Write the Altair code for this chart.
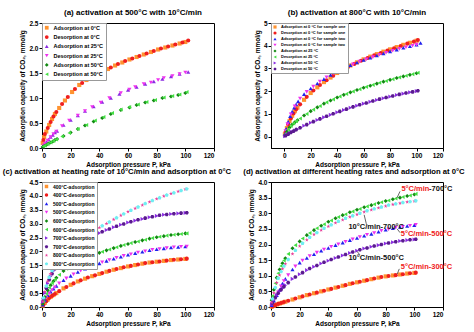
import altair as alt
import pandas as pd

# ---------------- panel (a) data ----------------
a_ads0_p = [0.5, 1.5, 3, 5, 7, 9, 12, 16, 21, 26, 31, 36, 41, 46, 51, 56, 61, 66, 71, 76, 81, 86, 91, 96, 100]
a_ads0_q = [0.1, 0.22, 0.33, 0.46, 0.58, 0.68, 0.8, 0.95, 1.12, 1.26, 1.36, 1.44, 1.51, 1.58, 1.65, 1.71, 1.77, 1.82, 1.87, 1.92, 1.97, 2.01, 2.05, 2.09, 2.12]
a_des0_p = [1, 2, 4, 6, 8, 10, 14, 18, 23, 28, 33, 38, 43, 48, 53, 58, 63, 68, 73, 78, 83, 88, 93, 98, 102]
a_des0_q = [0.16, 0.28, 0.4, 0.52, 0.63, 0.72, 0.88, 1.02, 1.18, 1.3, 1.4, 1.47, 1.54, 1.61, 1.68, 1.74, 1.79, 1.84, 1.89, 1.94, 1.99, 2.03, 2.07, 2.11, 2.15]
a_ads25_p = [0.5, 1.5, 3, 4.5, 6, 7.5, 9, 10.5, 15, 20, 25, 30, 36, 42, 48, 54, 60, 66, 72, 78, 84, 90, 96, 102]
a_ads25_q = [0.03, 0.07, 0.12, 0.17, 0.22, 0.26, 0.31, 0.34, 0.46, 0.56, 0.65, 0.74, 0.83, 0.92, 1.0, 1.08, 1.16, 1.22, 1.28, 1.33, 1.38, 1.43, 1.48, 1.52]
a_des25_p = [1, 2, 4, 6, 8, 10, 14, 19, 25, 30, 35, 41, 47, 55, 61, 65, 71, 76, 81, 85, 91, 96, 100]
a_des25_q = [0.05, 0.09, 0.15, 0.22, 0.28, 0.33, 0.44, 0.55, 0.65, 0.74, 0.82, 0.91, 1.0, 1.1, 1.17, 1.22, 1.28, 1.31, 1.36, 1.4, 1.44, 1.48, 1.51]
a_ads50_p = [0.5, 1.5, 3, 4.5, 6, 7.5, 9, 10.5, 15, 20, 25, 30, 36, 42, 48, 55, 61, 66, 72, 78, 84, 90, 95, 100]
a_ads50_q = [0.02, 0.04, 0.06, 0.09, 0.11, 0.13, 0.16, 0.18, 0.24, 0.31, 0.38, 0.45, 0.53, 0.6, 0.68, 0.76, 0.81, 0.86, 0.91, 0.95, 1.0, 1.03, 1.06, 1.1]
a_des50_p = [1, 2, 4, 6, 8, 10, 14, 19, 25, 31, 37, 43, 49, 55, 61, 67, 73, 79, 85, 91, 96, 101]
a_des50_q = [0.03, 0.05, 0.08, 0.11, 0.14, 0.17, 0.23, 0.3, 0.38, 0.46, 0.55, 0.62, 0.7, 0.77, 0.82, 0.87, 0.92, 0.96, 1.01, 1.04, 1.07, 1.12]

# ---------------- panel (b) data ----------------
b_ads1_p = [0.5, 2, 4, 6, 8, 10, 15, 20, 25, 30, 35, 40, 45, 50, 55, 60, 65, 70, 75, 80, 85, 90, 95, 100]
b_ads1_q = [0.1, 0.38, 0.68, 0.92, 1.12, 1.28, 1.62, 1.92, 2.17, 2.4, 2.6, 2.8, 2.97, 3.13, 3.27, 3.4, 3.52, 3.63, 3.74, 3.84, 3.94, 4.04, 4.13, 4.22]
b_des1_p = [1, 3, 5, 7, 9, 12, 17, 22, 27, 32, 37, 43, 48, 53, 58, 63, 68, 73, 78, 83, 88, 93, 98, 101]
b_des1_q = [0.2, 0.53, 0.8, 1.02, 1.2, 1.42, 1.75, 2.03, 2.27, 2.48, 2.68, 2.9, 3.05, 3.2, 3.34, 3.46, 3.58, 3.68, 3.79, 3.89, 3.99, 4.09, 4.18, 4.25]
b_ads2_p = [0.5, 1.5, 3, 4.5, 6, 7.5, 9, 10.5, 15, 20, 25, 30, 35, 40, 45, 50, 55, 60, 65, 70, 75, 80, 85, 90, 95, 100, 103]
b_ads2_q = [0.12, 0.35, 0.65, 0.9, 1.1, 1.27, 1.42, 1.55, 1.87, 2.12, 2.34, 2.53, 2.71, 2.87, 3.01, 3.14, 3.26, 3.37, 3.47, 3.57, 3.66, 3.75, 3.83, 3.91, 3.98, 4.05, 4.12]
b_des2_p = [1, 2.5, 5, 8, 12, 17, 22, 27, 32, 37, 42, 47, 52, 57, 62, 67, 72, 77, 82, 87, 92, 97, 100]
b_des2_q = [0.25, 0.55, 0.98, 1.33, 1.68, 1.97, 2.2, 2.42, 2.61, 2.78, 2.93, 3.06, 3.18, 3.3, 3.4, 3.5, 3.6, 3.69, 3.78, 3.86, 3.93, 4.0, 4.05]
b_ads25_p = [0.5, 2, 4, 6, 8, 10, 15, 20, 25, 30, 35, 40, 45, 50, 55, 60, 65, 70, 75, 80, 85, 90, 95, 100]
b_ads25_q = [0.06, 0.22, 0.4, 0.53, 0.63, 0.72, 0.93, 1.12, 1.29, 1.45, 1.59, 1.72, 1.84, 1.95, 2.05, 2.15, 2.24, 2.33, 2.42, 2.5, 2.58, 2.65, 2.72, 2.79]
b_des25_p = [1, 3, 5, 7, 9, 12, 17, 22, 27, 32, 37, 42, 47, 52, 57, 62, 67, 72, 77, 82, 87, 92, 97, 101]
b_des25_q = [0.12, 0.31, 0.47, 0.58, 0.68, 0.8, 1.0, 1.19, 1.35, 1.51, 1.64, 1.77, 1.88, 1.99, 2.09, 2.19, 2.28, 2.37, 2.45, 2.53, 2.61, 2.68, 2.75, 2.81]
b_ads50_p = [0.5, 2, 4, 6, 8, 10, 15, 20, 25, 30, 35, 40, 45, 50, 55, 60, 65, 70, 75, 80, 85, 90, 95, 100]
b_ads50_q = [0.02, 0.08, 0.15, 0.21, 0.27, 0.33, 0.48, 0.61, 0.73, 0.85, 0.96, 1.07, 1.17, 1.27, 1.36, 1.45, 1.53, 1.61, 1.69, 1.76, 1.83, 1.89, 1.95, 2.0]
b_des50_p = [1, 3, 5, 7, 9, 12, 17, 22, 27, 32, 37, 42, 47, 52, 57, 62, 67, 72, 77, 82, 87, 92, 97, 101]
b_des50_q = [0.04, 0.11, 0.18, 0.24, 0.3, 0.39, 0.53, 0.66, 0.78, 0.9, 1.01, 1.11, 1.21, 1.31, 1.4, 1.48, 1.57, 1.65, 1.72, 1.79, 1.86, 1.92, 1.97, 2.02]

# ---------------- panels (c) and (d): measured pressures ----------------
cd_p_ads = [0.5, 2, 4, 6, 8, 10, 15, 20, 25, 30, 35, 40, 45, 50, 55, 60, 65, 70, 75, 80, 85, 90, 95, 100]
cd_p_des = [1, 3, 5, 7, 9, 12, 17, 22, 27, 32, 37, 42, 47, 52, 57, 62, 67, 72, 77, 82, 87, 92, 97, 101]

c_ads400 = [0.05, 0.15, 0.27, 0.36, 0.43, 0.5, 0.67, 0.8, 0.92, 1.02, 1.11, 1.19, 1.27, 1.34, 1.4, 1.46, 1.51, 1.56, 1.6, 1.63, 1.66, 1.69, 1.71, 1.73]
c_des400 = [0.08, 0.21, 0.32, 0.4, 0.47, 0.57, 0.72, 0.85, 0.96, 1.06, 1.14, 1.22, 1.3, 1.37, 1.43, 1.48, 1.53, 1.58, 1.61, 1.64, 1.67, 1.7, 1.72, 1.74]
c_ads500 = [0.08, 0.25, 0.42, 0.55, 0.66, 0.76, 0.96, 1.12, 1.26, 1.38, 1.48, 1.57, 1.66, 1.74, 1.81, 1.88, 1.94, 1.99, 2.04, 2.08, 2.11, 2.14, 2.16, 2.18]
c_des500 = [0.14, 0.34, 0.49, 0.61, 0.71, 0.85, 1.03, 1.18, 1.31, 1.42, 1.52, 1.61, 1.69, 1.77, 1.84, 1.9, 1.96, 2.01, 2.06, 2.09, 2.12, 2.15, 2.17, 2.18]
c_ads600 = [0.12, 0.36, 0.6, 0.78, 0.93, 1.05, 1.3, 1.48, 1.62, 1.74, 1.85, 1.95, 2.04, 2.12, 2.2, 2.27, 2.34, 2.4, 2.46, 2.51, 2.55, 2.59, 2.62, 2.65]
c_des600 = [0.2, 0.48, 0.7, 0.86, 0.99, 1.16, 1.38, 1.54, 1.67, 1.79, 1.89, 1.99, 2.07, 2.15, 2.23, 2.3, 2.36, 2.42, 2.48, 2.53, 2.57, 2.6, 2.63, 2.65]
c_ads700 = [0.18, 0.5, 0.85, 1.1, 1.3, 1.46, 1.8, 2.05, 2.24, 2.4, 2.54, 2.66, 2.77, 2.87, 2.96, 3.04, 3.11, 3.17, 3.23, 3.28, 3.32, 3.35, 3.37, 3.39]
c_des700 = [0.3, 0.68, 0.98, 1.2, 1.38, 1.6, 1.91, 2.13, 2.31, 2.46, 2.59, 2.71, 2.81, 2.91, 2.99, 3.07, 3.14, 3.2, 3.25, 3.3, 3.33, 3.36, 3.38, 3.39]
c_ads800 = [0.2, 0.55, 0.92, 1.2, 1.42, 1.6, 1.95, 2.2, 2.4, 2.57, 2.72, 2.86, 3.0, 3.15, 3.3, 3.43, 3.55, 3.67, 3.78, 3.89, 3.99, 4.08, 4.16, 4.24]
c_des800 = [0.33, 0.75, 1.07, 1.31, 1.51, 1.75, 2.05, 2.28, 2.47, 2.63, 2.78, 2.92, 3.06, 3.21, 3.35, 3.48, 3.6, 3.72, 3.83, 3.93, 4.03, 4.11, 4.19, 4.25]

d_ads5_300 = [0.01, 0.04, 0.08, 0.11, 0.14, 0.17, 0.24, 0.31, 0.38, 0.44, 0.5, 0.56, 0.62, 0.68, 0.74, 0.79, 0.84, 0.89, 0.94, 0.98, 1.01, 1.04, 1.07, 1.09]
d_des5_300 = [0.02, 0.06, 0.1, 0.13, 0.16, 0.2, 0.27, 0.34, 0.4, 0.46, 0.52, 0.58, 0.64, 0.7, 0.76, 0.81, 0.86, 0.91, 0.96, 0.99, 1.02, 1.05, 1.08, 1.1]
d_ads5_500 = [0.06, 0.2, 0.38, 0.55, 0.75, 0.9, 1.2, 1.42, 1.57, 1.69, 1.8, 1.89, 1.98, 2.06, 2.14, 2.21, 2.28, 2.34, 2.41, 2.47, 2.52, 2.56, 2.59, 2.62]
d_des5_500 = [0.1, 0.3, 0.47, 0.66, 0.83, 1.02, 1.3, 1.49, 1.63, 1.74, 1.84, 1.93, 2.01, 2.09, 2.17, 2.24, 2.31, 2.37, 2.44, 2.49, 2.54, 2.57, 2.6, 2.63]
d_ads5_700 = [0.22, 0.55, 0.94, 1.2, 1.4, 1.56, 1.88, 2.1, 2.3, 2.46, 2.6, 2.73, 2.84, 2.94, 3.03, 3.11, 3.19, 3.26, 3.33, 3.39, 3.45, 3.5, 3.55, 3.6]
d_des5_700 = [0.35, 0.76, 1.08, 1.31, 1.49, 1.7, 1.98, 2.19, 2.37, 2.52, 2.65, 2.77, 2.88, 2.97, 3.06, 3.14, 3.22, 3.29, 3.35, 3.41, 3.47, 3.52, 3.57, 3.62]
d_ads10_500 = [0.08, 0.22, 0.38, 0.5, 0.6, 0.7, 0.9, 1.05, 1.18, 1.29, 1.39, 1.48, 1.57, 1.65, 1.73, 1.8, 1.87, 1.93, 1.98, 2.03, 2.07, 2.11, 2.14, 2.16]
d_des10_500 = [0.13, 0.3, 0.44, 0.55, 0.65, 0.78, 0.96, 1.1, 1.23, 1.33, 1.43, 1.52, 1.6, 1.68, 1.76, 1.83, 1.89, 1.95, 2.0, 2.05, 2.09, 2.12, 2.15, 2.17]
d_ads10_700 = [0.15, 0.45, 0.78, 1.02, 1.22, 1.38, 1.7, 1.95, 2.15, 2.32, 2.46, 2.58, 2.69, 2.79, 2.88, 2.96, 3.04, 3.11, 3.17, 3.23, 3.28, 3.32, 3.36, 3.39]
d_des10_700 = [0.26, 0.62, 0.92, 1.13, 1.31, 1.52, 1.81, 2.04, 2.23, 2.38, 2.52, 2.63, 2.74, 2.84, 2.92, 3.0, 3.08, 3.14, 3.2, 3.26, 3.3, 3.34, 3.37, 3.4]

# annotations of panel (d)
ann_red_text = ["5°C/min", "5°C/min-500°C", "5°C/min-300°C"]
ann_red_x = [91, 90.5, 90.5]
ann_red_y = [3.79, 2.34, 1.27]
ann_blk_text = ["-700°C", "10°C/min-700°C", "10°C/min-500°C"]
ann_blk_x = [110.3, 54, 54]
ann_blk_y = [3.79, 2.55, 1.57]
arr_x1 = [90, 66.5, 90, 62, 89.5]
arr_y1 = [3.7, 2.66, 2.38, 1.67, 1.22]
arr_x2 = [88, 65, 88, 60, 88]
arr_y2 = [3.5, 2.95, 2.5, 1.78, 1.05]

# ---------------- styles ----------------
ORANGE, RED, BLUE, MAGENTA = "#FF9330", "#F01E1E", "#2222EE", "#EE33EE"
DGREEN, LGREEN, VIOLET, PURPLE = "#118811", "#44E044", "#8A2BE2", "#5A1A90"
PINK, CYAN = "#E8409A", "#70EEF2"
HEX = "M-1,0L-0.5,-0.866L0.5,-0.866L1,0L0.5,0.866L-0.5,0.866Z"
STAR = "M0,-1L0.235,-0.324L0.951,-0.309L0.38,0.124L0.588,0.809L0,0.4L-0.588,0.809L-0.38,0.124L-0.951,-0.309L-0.235,-0.324Z"
PENT = "M0,-1L0.951,-0.309L0.588,0.809L-0.588,0.809L-0.951,-0.309Z"
FONT = "Liberation Sans"
W, H = 172, 125
XT = "Adsorption pressure P, kPa"
YT = "Adsorption capacity of CO₂, mmol/g"


def frame(series):
    rows = []
    for name, ps, qs, _, _ in series:
        for p, q in zip(ps, qs):
            rows.append({"P": p, "q": q, "s": name})
    return pd.DataFrame(rows)


def panel(series, title, title_dx, title_fs, xdom, ydom, yvals, yfmt, legend):
    df = frame(series)
    names = [s[0] for s in series]
    cols = [s[3] for s in series]
    shps = [s[4] for s in series]
    x = alt.X("P:Q", scale=alt.Scale(domain=xdom, nice=False, zero=False),
              axis=alt.Axis(values=[0, 20, 40, 60, 80, 100, 120], title=XT, labelOverlap=False))
    y = alt.Y("q:Q", scale=alt.Scale(domain=ydom, nice=False, zero=False),
              axis=alt.Axis(values=yvals, format=yfmt, title=YT, labelOverlap=False))
    pts = alt.Chart(df).mark_point(filled=True, size=17, opacity=1, strokeWidth=0).encode(
        x=x, y=y,
        color=alt.Color("s:N", scale=alt.Scale(domain=names, range=cols), legend=legend),
        shape=alt.Shape("s:N", scale=alt.Scale(domain=names, range=shps), legend=legend),
    )
    props = dict(title=alt.TitleParams(title, dx=title_dx, offset=3, fontSize=title_fs,
                                       font=FONT, fontWeight="bold", anchor="middle"),
                 width=W, height=H)
    return pts, props, x, y


def leg(fs, rp, sym):
    return alt.Legend(title=None, orient="top-left", offset=0, padding=2,
                      labelFont=FONT, labelFontSize=fs, labelFontWeight="bold",
                      rowPadding=rp, symbolSize=sym, symbolStrokeWidth=0,
                      strokeColor="#999999", fillColor="white", labelLimit=200)


sa = [
    ("Adsorption at 0°C", a_ads0_p, a_ads0_q, ORANGE, "square"),
    ("Desorption at 0°C", a_des0_p, a_des0_q, RED, "circle"),
    ("Adsorption at 25°C", a_ads25_p, a_ads25_q, VIOLET, "triangle-up"),
    ("Desorption at 25°C", a_des25_p, a_des25_q, MAGENTA, "triangle-down"),
    ("Adsorption at 50°C", a_ads50_p, a_ads50_q, DGREEN, "diamond"),
    ("Desorption at 50°C", a_des50_p, a_des50_q, LGREEN, "triangle-left"),
]
sb = [
    ("Adsorption at 0 °C for sample one", b_ads1_p, b_ads1_q, ORANGE, "square"),
    ("Desorption at 0 °C for sample one", b_des1_p, b_des1_q, RED, "circle"),
    ("Adsorption at 0 °C for sample two", b_ads2_p, b_ads2_q, BLUE, "triangle-up"),
    ("Desorption at 0 °C for sample two", b_des2_p, b_des2_q, MAGENTA, "triangle-down"),
    ("Adsorption at 25 °C", b_ads25_p, b_ads25_q, DGREEN, "diamond"),
    ("Desorption at 25 °C", b_des25_p, b_des25_q, LGREEN, "triangle-left"),
    ("Adsorption at 50 °C", b_ads50_p, b_ads50_q, VIOLET, "triangle-right"),
    ("Desorption at 50 °C", b_des50_p, b_des50_q, PURPLE, HEX),
]
sc = [
    ("400°C-adsorption", cd_p_ads, c_ads400, ORANGE, "square"),
    ("400°C-desorption", cd_p_des, c_des400, RED, "circle"),
    ("500°C-adsorption", cd_p_ads, c_ads500, BLUE, "triangle-up"),
    ("500°C-desorption", cd_p_des, c_des500, MAGENTA, "triangle-down"),
    ("600°C-adsorption", cd_p_ads, c_ads600, DGREEN, "diamond"),
    ("600°C-desorption", cd_p_des, c_des600, LGREEN, "triangle-left"),
    ("700°C-adsorption", cd_p_ads, c_ads700, VIOLET, "triangle-right"),
    ("700°C-desorption", cd_p_des, c_des700, PURPLE, HEX),
    ("800°C-adsorption", cd_p_ads, c_ads800, PINK, STAR),
    ("800°C-desorption", cd_p_des, c_des800, CYAN, PENT),
]
sd = [
    ("5°C/min-300°C adsorption", cd_p_ads, d_ads5_300, ORANGE, "square"),
    ("5°C/min-300°C desorption", cd_p_des, d_des5_300, RED, "circle"),
    ("5°C/min-500°C adsorption", cd_p_ads, d_ads5_500, BLUE, "triangle-up"),
    ("5°C/min-500°C desorption", cd_p_des, d_des5_500, MAGENTA, "triangle-down"),
    ("5°C/min-700°C adsorption", cd_p_ads, d_ads5_700, DGREEN, "diamond"),
    ("5°C/min-700°C desorption", cd_p_des, d_des5_700, LGREEN, "triangle-left"),
    ("10°C/min-500°C adsorption", cd_p_ads, d_ads10_500, VIOLET, "triangle-right"),
    ("10°C/min-500°C desorption", cd_p_des, d_des10_500, PURPLE, HEX),
    ("10°C/min-700°C adsorption", cd_p_ads, d_ads10_700, PINK, STAR),
    ("10°C/min-700°C desorption", cd_p_des, d_des10_700, CYAN, PENT),
]

pa, propa, _, _ = panel(sa, "(a) activation at 500°C with 10°C/min", 5, 8, [0, 120], [0, 2.5],
                        [0, 0.5, 1.0, 1.5, 2.0, 2.5], ".1f", leg(5.5, 2.3, 14))
pb, propb, _, _ = panel(sb, "(b) activation at 800°C with 10°C/min", 0, 8, [-10, 120], [-0.5, 5],
                        [0, 1, 2, 3, 4, 5], "d", leg(4, 2.0, 10))
pc, propc, _, _ = panel(sc, "(c) activation at heating rate of 10°C/min and adsorption at 0°C",
                        -11, 7.7, [0, 120], [0, 4.5],
                        [0, 0.5, 1.0, 1.5, 2.0, 2.5, 3.0, 3.5, 4.0, 4.5], ".1f", leg(5, 2.6, 12))
pd_, propd, xd, yd = panel(sd, "(d) activation at different heating rates and adsorption at 0°C",
                           -3, 7.7, [0, 120], [0, 4.0],
                           [0, 0.5, 1.0, 1.5, 2.0, 2.5, 3.0, 3.5, 4.0], ".1f", None)

red_df = pd.DataFrame({"t": ann_red_text, "P": ann_red_x, "q": ann_red_y})
blk_df = pd.DataFrame({"t": ann_blk_text, "P": ann_blk_x, "q": ann_blk_y})
arr_df = pd.DataFrame({"P": arr_x1, "q": arr_y1, "P2": arr_x2, "q2": arr_y2})

txt_red = alt.Chart(red_df).mark_text(align="left", baseline="middle", font=FONT, fontSize=7.5,
                                      fontWeight="bold", color="#F02020").encode(
    x=xd, y=yd, text="t:N")
txt_blk = alt.Chart(blk_df).mark_text(align="left", baseline="middle", font=FONT, fontSize=7.5,
                                      fontWeight="bold", color="#111111").encode(
    x=xd, y=yd, text="t:N")
arrows = alt.Chart(arr_df).mark_rule(color="#222222", strokeWidth=0.7).encode(
    x=xd, y=yd, x2="P2:Q", y2="q2:Q")

ca = pa.properties(**propa)
cb = pb.properties(**propb)
cc = pc.properties(**propc)
cdd = alt.layer(pd_, arrows, txt_red, txt_blk).properties(**propd)

chart = alt.concat(ca, cb, cc, cdd, columns=2, spacing={"row": 34, "column": 57},
                   bounds="flush").resolve_scale(
    color="independent", shape="independent"
).properties(
    padding={"left": 2, "top": 8, "right": 0, "bottom": 0}, background="white"
).configure_view(stroke="black", strokeWidth=1).configure_axis(
    labelFont=FONT, labelFontSize=6.5, labelFontWeight="bold", labelColor="black",
    titleFont=FONT, titleFontSize=6.5, titleFontWeight="bold", titleColor="black",
    tickColor="black", domainColor="black", tickSize=3, labelPadding=1, titlePadding=3,
    grid=False,
)

chart.save("out.html", embed_options={"renderer": "svg", "actions": False})
